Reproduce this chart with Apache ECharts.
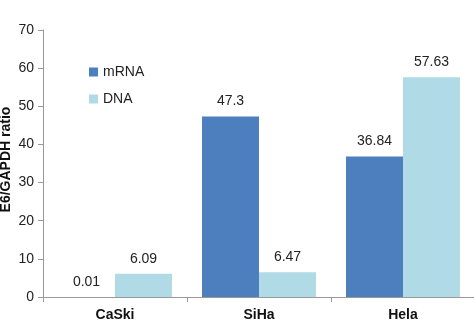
<!DOCTYPE html>
<html>
<head>
<meta charset="utf-8">
<script src="https://cdn.jsdelivr.net/npm/echarts@6/dist/echarts.min.js"></script>
<style>html,body{margin:0;padding:0;background:#fff}#c{width:474px;height:321px}</style>
</head>
<body>
<div id="c"></div>
<script>
const categories = ['CaSki', 'SiHa', 'Hela'];
const mrnaValues = [0.01, 47.3, 36.84];
const dnaValues = [6.09, 6.47, 57.63];
const yTicks = [0, 10, 20, 30, 40, 50, 60, 70];

const FONT = '"Liberation Sans", Arial, Helvetica, sans-serif';
const chart = echarts.init(document.getElementById('c'), null, {renderer: 'canvas'});
const labelStyle = {show: true, position: 'top', distance: 8, color: '#222', fontSize: 14, fontFamily: FONT};
chart.setOption({
  animation: false,
  backgroundColor: '#fff',
  grid: {left: 43, top: 30, width: 432, bottom: 24, containLabel: false, outerBoundsMode: 'none'},
  legend: {
    orient: 'vertical', left: 89, top: 65, itemWidth: 9, itemHeight: 9, itemGap: 13, padding: 0,
    icon: 'rect',
    textStyle: {fontSize: 14, color: '#222', fontFamily: FONT},
    data: ['mRNA', 'DNA']
  },
  xAxis: {
    type: 'category', data: categories,
    axisLine: {lineStyle: {color: '#999', width: 1}},
    axisTick: {show: true, length: 5, lineStyle: {color: '#999'}},
    axisLabel: {fontSize: 14, fontWeight: 'bold', color: '#111', margin: 11, fontFamily: FONT}
  },
  yAxis: {
    type: 'value', min: yTicks[0], max: yTicks[yTicks.length - 1], interval: 10,
    name: 'E6/GAPDH ratio', nameLocation: 'middle', nameGap: 30, nameRotate: 90,
    nameMoveOverlap: false,
    nameTextStyle: {fontSize: 14, fontWeight: 'bold', color: '#111', fontFamily: FONT, padding: [0, 0, 0, 8]},
    axisLine: {show: true, lineStyle: {color: '#999', width: 1}},
    axisTick: {show: true, length: 5, lineStyle: {color: '#999'}},
    splitLine: {show: false},
    axisLabel: {fontSize: 14, color: '#222', margin: 9, fontFamily: FONT}
  },
  series: [
    {name: 'mRNA', type: 'bar', data: mrnaValues, barWidth: 57, barGap: '0%',
     itemStyle: {color: '#4d7ebd'}, label: labelStyle},
    {name: 'DNA', type: 'bar', data: dnaValues, barWidth: 57, barGap: '0%',
     itemStyle: {color: '#b0dae6'}, label: labelStyle}
  ]
});
</script>
</body>
</html>
